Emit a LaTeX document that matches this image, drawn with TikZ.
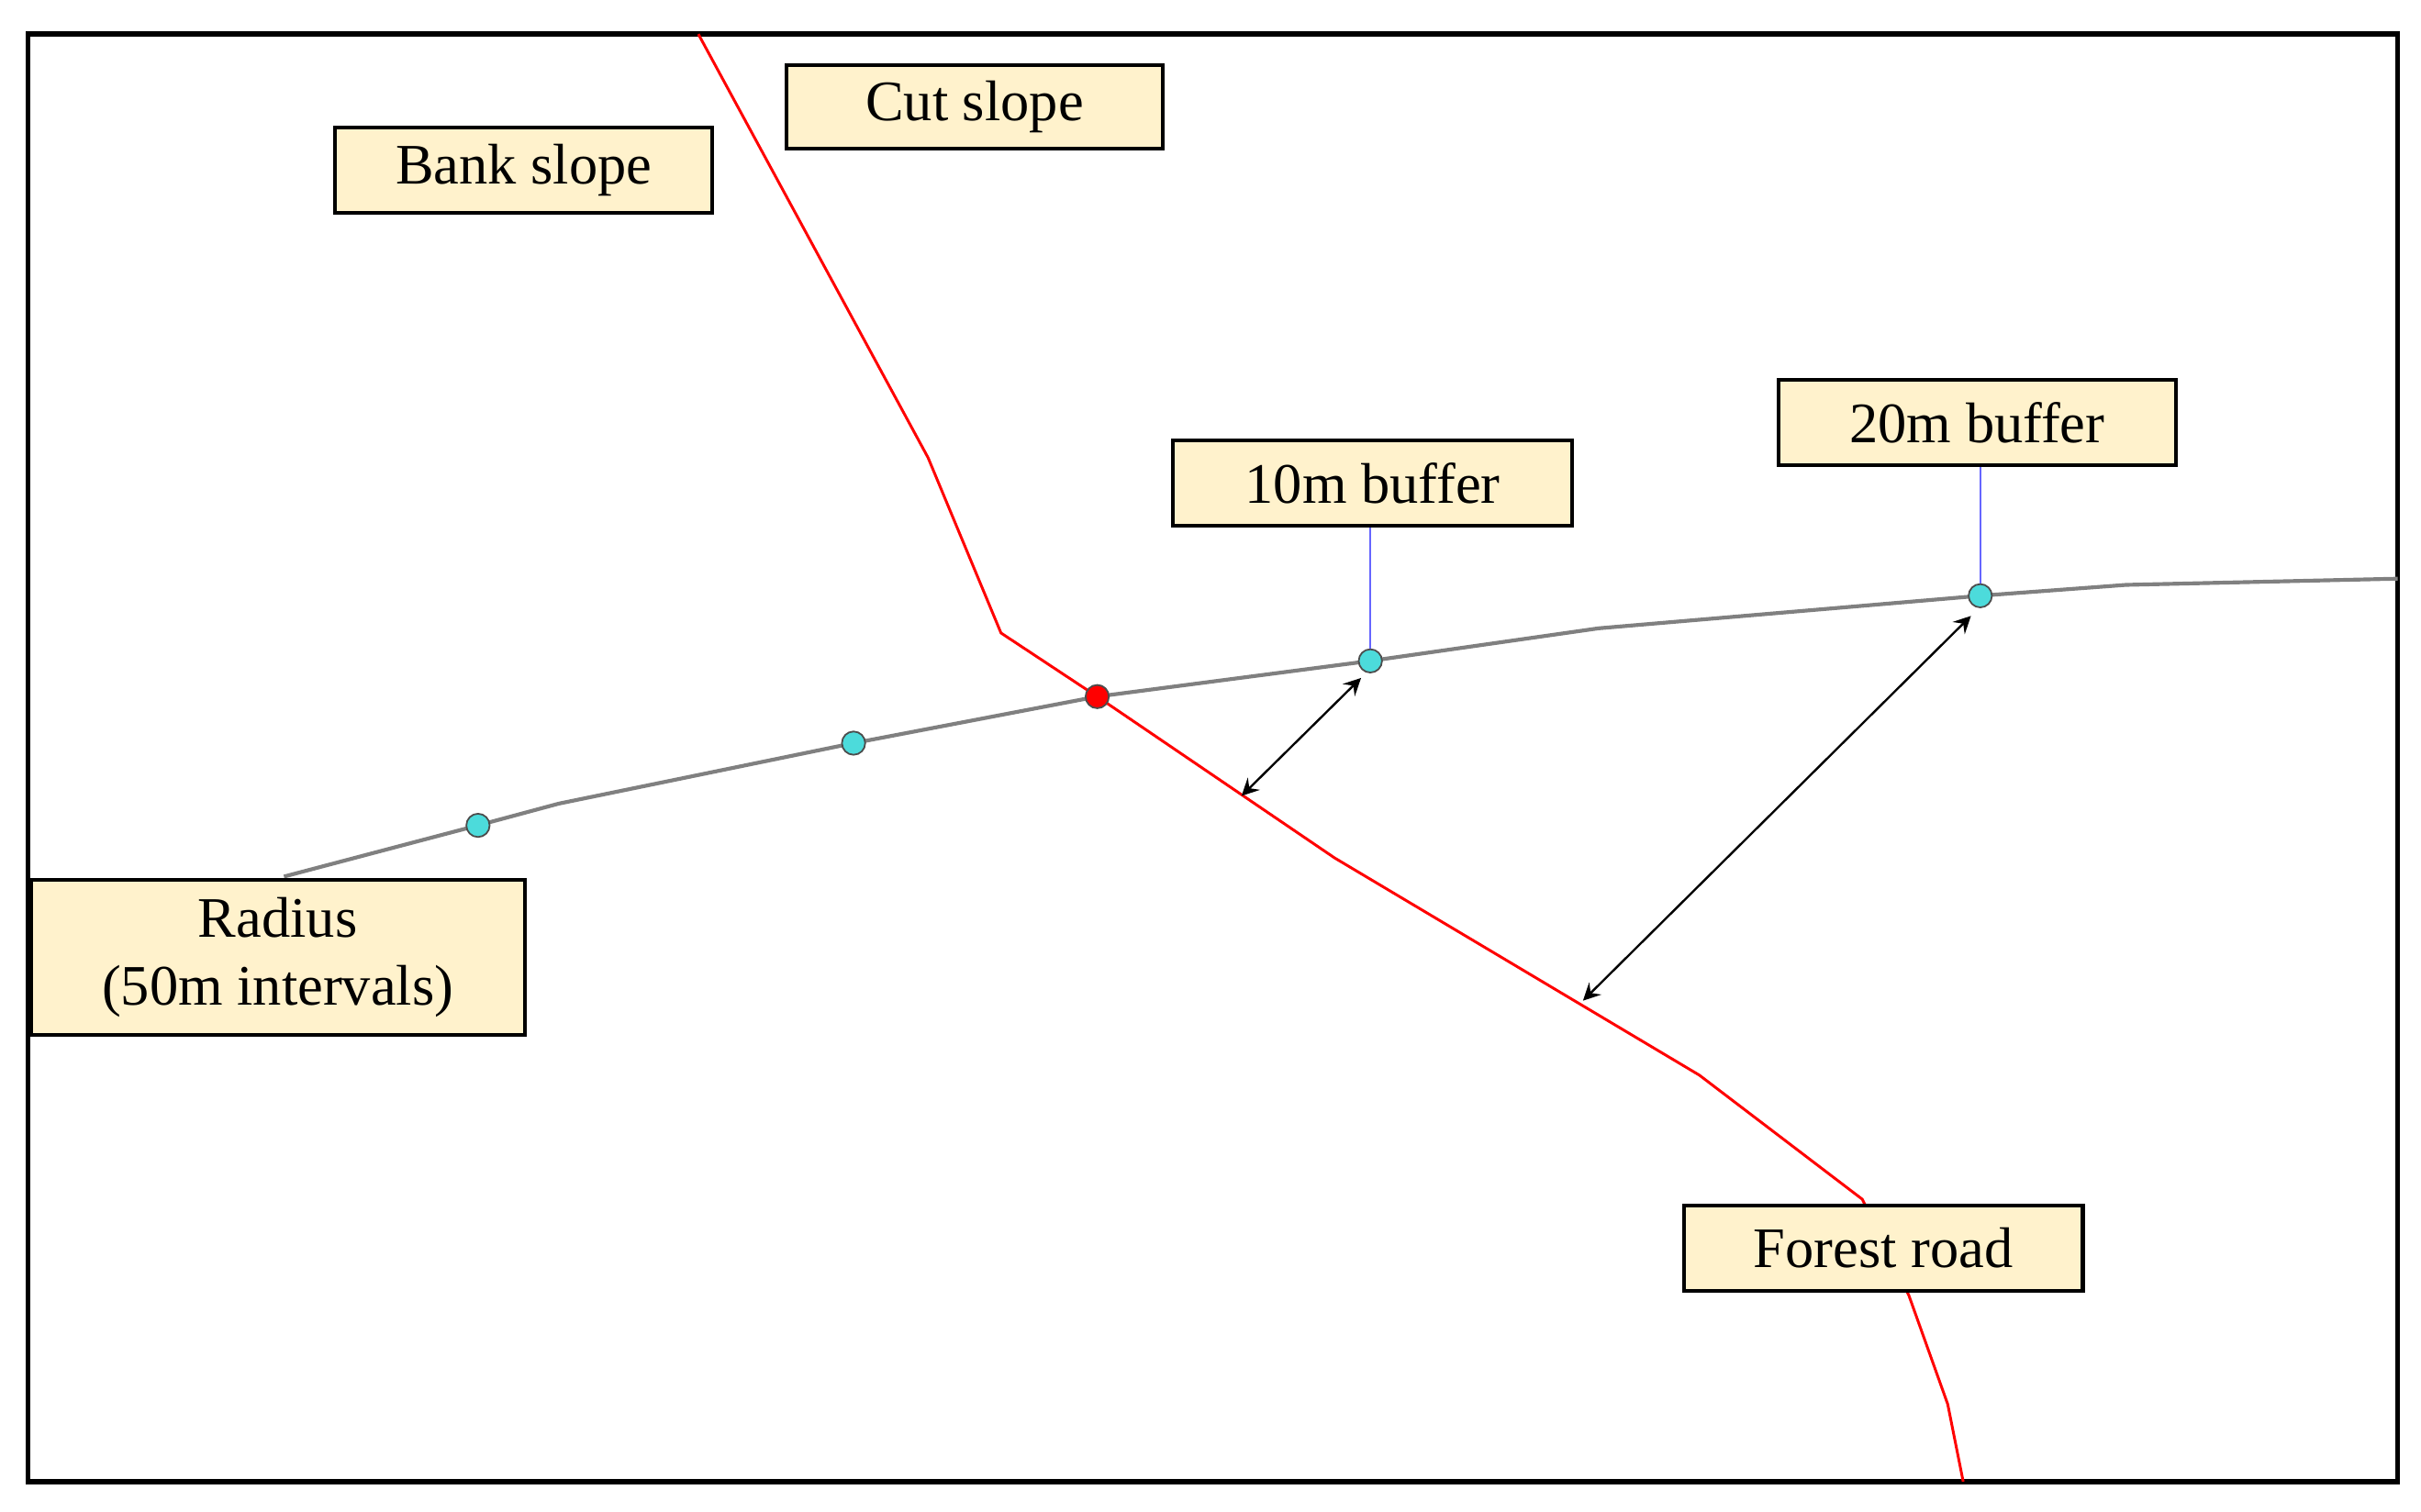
\documentclass[tikz,border=0pt]{standalone}
\usepackage{fontspec}
\setmainfont{Liberation Serif}
\begin{document}
\begin{tikzpicture}[x=0.01cm,y=-0.01cm,
 lbl/.style={draw=black,fill=cream,line width=0.7pt,inner sep=0pt,font=\fontsize{10.5}{12.5}\selectfont,align=center},
 pt/.style={circle,draw=black!70,line width=0.3pt,inner sep=0pt,minimum size=0.15cm,fill=teal!40!cyan!70},
 dim/.style={<->,>=stealth,line width=0.4pt}]
\definecolor{cream}{HTML}{FFF2CC}
\useasboundingbox (0,0) rectangle (1560,974);
\fill[white] (0,0) rectangle (1560,974);
\draw[line width=0.9pt] (18,22) rectangle (1545,955);
\draw[red,line width=0.5pt] (450,22) -- (598,295) -- (645,408) -- (707,449) -- (860,553) -- (1095,693) -- (1200,773) -- (1230,835) -- (1255,905) -- (1265,955);
\draw[gray,line width=0.7pt] (183,565) -- (308,532) -- (360,518) -- (550,479) -- (707,449) -- (883,426) -- (1030,405) -- (1276,384) -- (1370,377) -- (1545,373);
\node[lbl,minimum width=2.43cm,minimum height=0.55cm] (bank) at (337.5,109.5) {Bank slope};
\node[lbl,minimum width=2.42cm,minimum height=0.54cm] (cut) at (628,69) {Cut slope};
\node[lbl,minimum width=2.57cm,minimum height=0.55cm] (b10) at (884.5,311.5) {10m buffer};
\node[lbl,minimum width=2.56cm,minimum height=0.55cm] (b20) at (1274,272.5) {20m buffer};
\node[lbl,minimum width=3.18cm,minimum height=1.0cm] (rad) at (179,617) {Radius\\(50m intervals)};
\node[lbl,minimum width=2.57cm,minimum height=0.55cm] (road) at (1213.5,804.5) {Forest road};
\node[pt] (p1) at (308,532) {};
\node[pt] (p2) at (550,479) {};
\node[pt] (p3) at (883,426) {};
\node[pt] (p4) at (1276,384) {};
\node[circle,draw=black!70,line width=0.3pt,inner sep=0pt,minimum size=0.15cm,fill=red] (c) at (707,449) {};
\draw[blue!60,line width=0.4pt] (b10.south -| p3) -- (p3);
\draw[blue!60,line width=0.4pt] (b20.south -| p4) -- (p4);
\coordinate (a1) at (800,513); \coordinate (a2) at (877,437);
\coordinate (a3) at (1020,645); \coordinate (a4) at (1270,397);
\draw[dim] (a1) -- (a2);
\draw[dim] (a3) -- (a4);
\end{tikzpicture}
\end{document}
